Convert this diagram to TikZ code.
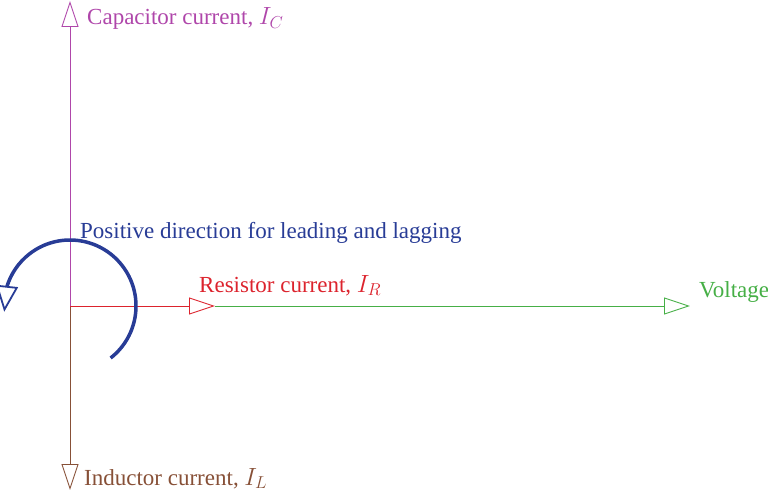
\documentclass[tikz,border=0pt]{standalone}
\usepackage{fontspec}
\setmainfont{Liberation Serif}
\usetikzlibrary{arrows.meta,bending}
\definecolor{capc}{RGB}{175,70,170}
\definecolor{indc}{RGB}{135,80,55}
\definecolor{resc}{RGB}{220,35,45}
\definecolor{volc}{RGB}{70,175,70}
\definecolor{dirc}{RGB}{40,60,150}
\tikzset{
  vec/.style={line width=0.9pt,-{Triangle[open,length=26pt,width=17pt,line width=0.9pt]}},
  lbl/.style={anchor=base west,inner sep=0pt,font=\fontsize{23}{26}\selectfont}
}
\begin{document}
\begin{tikzpicture}[x=1pt,y=-1pt]
\useasboundingbox (0,0) rectangle (768,492);
\coordinate (O) at (70,306);
\coordinate (T) at (70,1);
\coordinate (B) at (70,490);
\coordinate (R) at (215,306);
\coordinate (V) at (690,306);
\draw[vec,capc] (O) -- (T);
\draw[vec,indc] (O) -- (B);
\draw[vec,volc] (R) -- (V);
\draw[vec,resc] (O) -- (R);
\draw[dirc,line width=3.5pt,-{Triangle[open,length=26pt,width=22pt,line width=1.8pt,flex]}]
  (O) ++(52:66) arc[start angle=52,end angle=-185,radius=66];
\node[lbl,text=capc] (lc) at (87,25) {Capacitor current, $I_C$};
\node[lbl,text=indc] (li) at (84,485) {Inductor current, $I_L$};
\node[lbl,text=resc] (lr) at (199,292) {Resistor current, $I_R$};
\node[lbl,text=volc] (lv) at (699,297) {Voltage};
\node[lbl,text=dirc] (ld) at (80,238) {Positive direction for leading and lagging};
\end{tikzpicture}
\end{document}
